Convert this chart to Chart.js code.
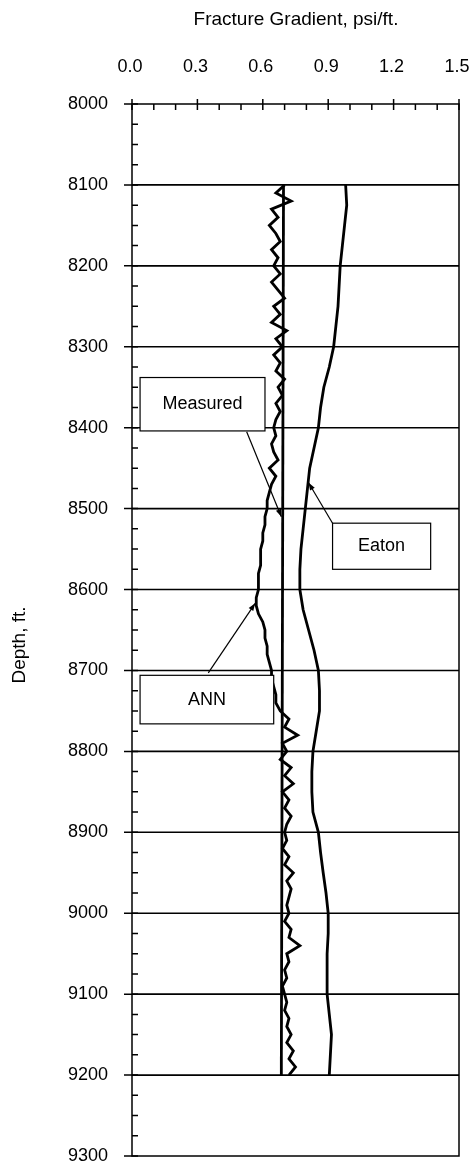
<!DOCTYPE html>
<html>
<head>
<meta charset="utf-8">
<script src="https://cdn.jsdelivr.net/npm/chart.js@4.4.1/dist/chart.umd.min.js"></script>
<style>
  html, body { margin: 0; padding: 0; background: #fff; }
  #wrap { position: relative; width: 474px; height: 1167px; }
</style>
</head>
<body>
<div id="wrap"><canvas id="c" width="474" height="1167"></canvas></div>
<script>
// ANN prediction, every 10 ft from 8100 to 9200
var annDepth = [];
for (var d = 8100; d <= 9200; d += 10) annDepth.push(d);
var annValues = [
  0.70,0.66,0.73,0.64,0.67,0.63,0.66,0.68,0.64,0.67,
  0.65,0.68,0.64,0.67,0.70,0.65,0.68,0.64,0.71,0.66,
  0.69,0.65,0.68,0.66,0.70,0.67,0.69,0.66,0.68,0.66,
  0.65,0.66,0.64,0.65,0.67,0.63,0.66,0.64,0.63,0.62,
  0.62,0.61,0.61,0.60,0.60,0.59,0.59,0.59,0.58,0.58,
  0.58,0.57,0.57,0.58,0.60,0.61,0.61,0.62,0.62,0.63,
  0.64,0.64,0.65,0.66,0.66,0.68,0.72,0.70,0.76,0.69,
  0.71,0.68,0.73,0.70,0.74,0.69,0.72,0.70,0.73,0.71,
  0.70,0.71,0.69,0.72,0.70,0.74,0.71,0.73,0.72,0.71,
  0.72,0.70,0.73,0.72,0.77,0.71,0.72,0.70,0.71,0.69,
  0.70,0.71,0.70,0.72,0.71,0.73,0.71,0.74,0.72,0.75,
  0.72
];

// Eaton method, every 25 ft
var eatonDepth = [];
for (var e = 8100; e <= 9200; e += 25) eatonDepth.push(e);
var eatonValues = [
  0.98,0.985,0.975,0.965,0.955,0.95,0.945,0.935,0.925,0.905,
  0.88,0.865,0.855,0.835,0.815,0.805,0.795,0.785,0.775,0.77,
  0.77,0.785,0.81,0.835,0.855,0.86,0.86,0.845,0.83,0.825,
  0.825,0.83,0.855,0.865,0.877,0.89,0.90,0.90,0.895,0.895,
  0.895,0.905,0.915,0.91,0.905
];

// Measured
var measuredDepth = [8100, 9200];
var measuredValues = [0.695, 0.685];

var xTicks = [0.0, 0.3, 0.6, 0.9, 1.2, 1.5];
var yTicks = [8000, 8100, 8200, 8300, 8400, 8500, 8600, 8700, 8800, 8900, 9000, 9100, 9200, 9300];

// labels: [text, x0, y0, x1, y1] in data units, arrow [fromX, fromY, toX, toY]
var labelBoxes = [
  ["Measured", 0.037, 8338, 0.61, 8404],
  ["Eaton", 0.92, 8518, 1.37, 8575],
  ["ANN", 0.037, 8706, 0.65, 8766]
];
var labelArrows = [
  [0.526, 8405, 0.685, 8510],
  [0.92, 8518, 0.81, 8468],
  [0.35, 8703, 0.565, 8617]
];

function pts(xs, ys) {
  return xs.map(function(v, i){ return { x: v, y: ys[i] }; });
}

var FONT = "'Liberation Sans', Arial, sans-serif";

// grid lines under the data
var gridPlugin = {
  id: "grid",
  beforeDatasetsDraw: function(chart) {
    var ctx = chart.ctx, a = chart.chartArea, sy = chart.scales.y;
    ctx.save();
    ctx.strokeStyle = "#000";
    ctx.lineWidth = 1.6;
    ctx.beginPath();
    yTicks.forEach(function(v) {
      if (v === 8000 || v === 9300) return;
      var py = sy.getPixelForValue(v);
      ctx.moveTo(a.left, py); ctx.lineTo(a.right, py);
    });
    ctx.stroke();
    ctx.restore();
  }
};

var framePlugin = {
  id: "frame",
  afterDraw: function(chart) {
    var ctx = chart.ctx, a = chart.chartArea;
    var sx = chart.scales.x, sy = chart.scales.y;
    ctx.save();
    ctx.strokeStyle = "#000";
    ctx.lineWidth = 1.5;
    ctx.strokeRect(a.left, a.top, a.right - a.left, a.bottom - a.top);
    ctx.beginPath();
    for (var i = 0; i <= 15; i++) {
      var px = sx.getPixelForValue(i / 10);
      var major = (i % 3 === 0);
      ctx.moveTo(px, a.top - (major ? 5 : 0));
      ctx.lineTo(px, a.top + 6);
    }
    for (var v = 8000; v <= 9300; v += 25) {
      var py = sy.getPixelForValue(v);
      var maj = (v % 100 === 0);
      ctx.moveTo(a.left - (maj ? 8 : 0), py);
      ctx.lineTo(a.left + 6, py);
    }
    ctx.stroke();

    // tick labels and titles
    ctx.fillStyle = "#000";
    ctx.font = "18px " + FONT;
    ctx.textAlign = "center";
    ctx.textBaseline = "middle";
    xTicks.forEach(function(t) {
      ctx.fillText(t.toFixed(1), sx.getPixelForValue(t) - 2, 67);
    });
    ctx.textAlign = "right";
    yTicks.forEach(function(t) {
      ctx.fillText(String(t), 108, sy.getPixelForValue(t));
    });
    ctx.font = "19px " + FONT;
    ctx.textAlign = "center";
    ctx.fillText("Fracture Gradient, psi/ft.", 296, 20);
    ctx.save();
    ctx.translate(20, 645);
    ctx.rotate(-Math.PI / 2);
    ctx.fillText("Depth, ft.", 0, 0);
    ctx.restore();

    // annotation boxes
    ctx.lineWidth = 1.2;
    ctx.font = "18px " + FONT;
    labelBoxes.forEach(function(b) {
      var x0 = sx.getPixelForValue(b[1]), x1 = sx.getPixelForValue(b[3]);
      var y0 = sy.getPixelForValue(b[2]), y1 = sy.getPixelForValue(b[4]);
      ctx.fillStyle = "#fff";
      ctx.fillRect(x0, y0, x1 - x0, y1 - y0);
      ctx.strokeRect(x0, y0, x1 - x0, y1 - y0);
      ctx.fillStyle = "#000";
      ctx.fillText(b[0], (x0 + x1) / 2, (y0 + y1) / 2);
    });
    labelArrows.forEach(function(r) {
      var fx = sx.getPixelForValue(r[0]), fy = sy.getPixelForValue(r[1]);
      var tx = sx.getPixelForValue(r[2]), ty = sy.getPixelForValue(r[3]);
      ctx.beginPath();
      ctx.moveTo(fx, fy); ctx.lineTo(tx, ty); ctx.stroke();
      var ang = Math.atan2(ty - fy, tx - fx), h = 8;
      ctx.beginPath();
      ctx.moveTo(tx, ty);
      ctx.lineTo(tx - h * Math.cos(ang - 0.35), ty - h * Math.sin(ang - 0.35));
      ctx.lineTo(tx - h * Math.cos(ang + 0.35), ty - h * Math.sin(ang + 0.35));
      ctx.closePath();
      ctx.fillStyle = "#000";
      ctx.fill();
    });
    ctx.restore();
  }
};

var lineStyle = { showLine: true, pointRadius: 0, borderColor: "#000", borderWidth: 2.8, tension: 0, fill: false };

new Chart(document.getElementById("c"), {
  type: "scatter",
  data: {
    datasets: [
      Object.assign({ label: "ANN", data: pts(annValues, annDepth) }, lineStyle),
      Object.assign({ label: "Eaton", data: pts(eatonValues, eatonDepth) }, lineStyle),
      Object.assign({ label: "Measured", data: pts(measuredValues, measuredDepth) }, lineStyle)
    ]
  },
  options: {
    responsive: false,
    animation: false,
    layout: { padding: { left: 132, top: 104, right: 15, bottom: 11 } },
    plugins: { legend: { display: false }, tooltip: { enabled: false } },
    scales: {
      x: { type: "linear", position: "top", min: 0, max: 1.5, display: false },
      y: { type: "linear", reverse: true, min: 8000, max: 9300, display: false }
    }
  },
  plugins: [gridPlugin, framePlugin]
});
</script>
</body>
</html>
